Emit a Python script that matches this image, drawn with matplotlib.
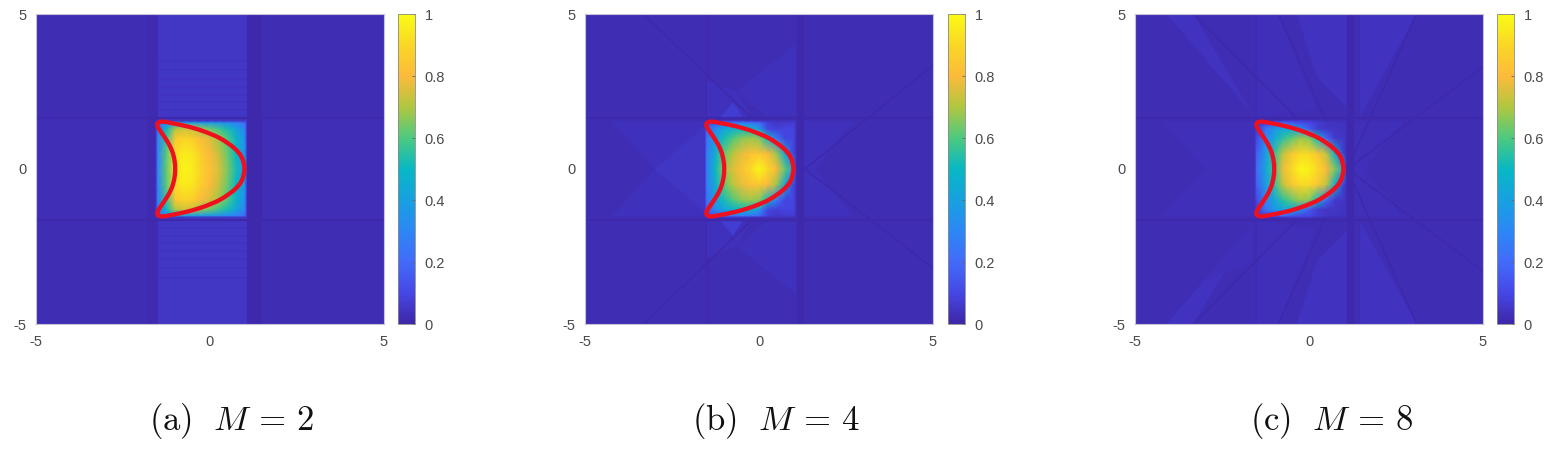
import numpy as np
import matplotlib
matplotlib.use('Agg')
import matplotlib.pyplot as plt
from matplotlib.cm import ScalarMappable
from matplotlib.colors import LinearSegmentedColormap, Normalize
from matplotlib.path import Path
from matplotlib.patches import PathPatch

plt.rcParams['font.family'] = ['Liberation Sans', 'DejaVu Sans']
plt.rcParams['mathtext.fontset'] = 'cm'

captions = [r'$\mathrm{(a)}\ \ M\,=\,2$', r'$\mathrm{(b)}\ \ M\,=\,4$', r'$\mathrm{(c)}\ \ M\,=\,8$']
axis_ticks = [-5, 0, 5]
axis_labels = ['-5', '0', '5']
bar_ticks = [0, 0.2, 0.4, 0.6, 0.8, 1]
bar_labels = ['0', '0.2', '0.4', '0.6', '0.8', '1']

# colormap
cmap_levels = [0, 0.1, 0.2, 0.3, 0.4, 0.5, 0.6, 0.7, 0.8, 0.9, 1]
cmap_colors = [(0.2422, 0.1504, 0.6603), (0.2750, 0.2800, 0.9000), (0.2600, 0.4200, 0.9800),
               (0.1700, 0.5300, 0.9600), (0.0900, 0.6300, 0.8800), (0.0300, 0.7200, 0.7700),
               (0.3000, 0.7900, 0.5000), (0.6900, 0.7800, 0.2500), (0.9900, 0.7300, 0.2300),
               (0.9800, 0.8400, 0.1500), (0.9769, 0.9839, 0.0805)]

# red curve, upper half from the right tip round to the inner point
curve_x = [0.99, 0.91, 0.69, 0.29, -0.19, -0.67, -1.15, -1.38, -1.50, -1.50, -1.35, -1.19, -1.08, -1.02, -1.00]
curve_y = [0.00, 0.38, 0.68, 0.99, 1.22, 1.38, 1.49, 1.53, 1.48, 1.36, 1.10, 0.82, 0.55, 0.28, 0.00]

# field inside the box, upper half only, the lower half is its mirror image
field_x = [-1.55, -1.5, -1.25, -1.0, -0.75, -0.5, -0.25, 0.0, 0.25, 0.5, 0.75, 1.0, 1.05]
field_y = [0.0, 0.5, 1.0, 1.3, 1.5, 1.55]
field_a = [[.06, .30, .62, .93, .98, .96, .88, .82, .75, .65, .52, .36, .06],
           [.06, .29, .61, .91, .96, .94, .86, .80, .73, .63, .50, .35, .06],
           [.06, .28, .57, .84, .89, .87, .80, .75, .68, .60, .48, .33, .06],
           [.06, .26, .50, .70, .74, .73, .67, .63, .58, .52, .42, .30, .06],
           [.06, .18, .30, .38, .40, .40, .38, .37, .35, .32, .28, .20, .06],
           [.05, .05, .05, .05, .05, .05, .05, .05, .05, .05, .05, .05, .05]]
field_b = [[.06, .28, .50, .68, .76, .83, .90, .99, .90, .80, .62, .38, .08],
           [.06, .26, .46, .62, .71, .77, .82, .84, .80, .68, .42, .08, .05],
           [.06, .22, .40, .52, .60, .66, .68, .66, .50, .25, .09, .09, .05],
           [.06, .18, .32, .42, .47, .50, .50, .38, .10, .08, .09, .09, .05],
           [.05, .10, .14, .20, .24, .26, .24, .20, .08, .05, .06, .07, .04],
           [.04, .04, .05, .07, .07, .07, .05, .04, .04, .04, .04, .04, .04]]
field_c = [[.05, .20, .42, .58, .78, .90, .99, .97, .90, .80, .65, .42, .08],
           [.05, .17, .38, .55, .72, .84, .90, .90, .84, .72, .45, .07, .04],
           [.05, .10, .30, .42, .55, .62, .68, .66, .50, .18, .06, .05, .04],
           [.04, .07, .22, .36, .42, .45, .35, .16, .07, .05, .05, .04, .04],
           [.04, .05, .08, .16, .20, .14, .10, .10, .07, .05, .04, .04, .04],
           [.03, .03, .03, .04, .06, .08, .09, .07, .04, .03, .03, .03, .03]]
fields = [field_a, field_b, field_c]

base_level = 0.02

# faint bands: x0, x1, level
column_bands = [[(-1.48, 1.05, .05), (-1.82, -1.48, .012), (1.05, 1.48, .008)],
                [(-1.55, -1.4, .012), (1.1, 1.28, .006)],
                [(-1.55, -1.4, .012), (1.1, 1.28, .006)]]
row_bands = [[(-5, -1.82, .026), (1.48, 5, .026)], [], []]

# stripes across the central column of panel (a)
stripe_y = [1.9, 2.15, 2.4, 2.65, 2.9, 3.2, 3.5]

# lighter facets: outline x, outline y, level
facets_b = [([-4.23, -1.5, -1.5, -4.23, -2.99], [1.53, 1.53, -1.53, -1.53, 0], .035),
            ([-2.99, -1.5, -1.5], [0, 1.45, -1.45], .045),
            ([1.3, 2.7, 1.6, 2.7, 1.3], [1.53, 1.53, 0, -1.53, -1.53], .035),
            ([-1.5, -.64, -.2, -1.5], [2.85, 2.5, 1.69, 1.69], .035),
            ([-1.5, -.64, -.2, -1.5], [-2.85, -2.5, -1.69, -1.69], .035),
            ([-.64, 1.08, 1.08, .22], [2.5, 4.05, 1.69, 1.69], .035),
            ([-.64, 1.08, 1.08, .22], [-2.5, -4.05, -1.69, -1.69], .035),
            ([-1.12, -.75, -.45], [1.65, 2.15, 1.65], .07),
            ([-1.12, -.75, -.45], [-1.65, -2.15, -1.65], .07)]
facets_c = [([-4.23, -1.5, -1.5, -4.23, -2.99], [1.53, 1.53, -1.53, -1.53, 0], .03),
            ([1.3, 2.7, 1.6, 2.7, 1.3], [1.53, 1.53, 0, -1.53, -1.53], .03),
            ([-4.09, -3.32, -1.6], [5, 5, 1.74], .04),
            ([-4.09, -3.32, -1.6], [-5, -5, -1.74], .04),
            ([-1.5, -.88, .22, -1.5], [5, 5, 1.9, 1.69], .03),
            ([-1.5, -.88, .22, -1.5], [-5, -5, -1.9, -1.69], .03),
            ([-.35, 1.08, 1.08, .22], [5, 5, 2.0, 2.98], .04),
            ([-.35, 1.08, 1.08, .22], [-5, -5, -2.0, -2.98], .04),
            ([1.47, 3.09, 1.47], [5, 5, 1.69], .04),
            ([1.47, 3.09, 1.47], [-5, -5, -1.69], .04),
            ([-3.0, -1.6, -1.6], [-3.6, -1.74, -3.0], .03)]
facets = [[], facets_b, facets_c]

# thin dark streaks through the point right of the tip
streak_x_b = [-3.32, -3.32, 5, 5]
streak_y_b = [5, -5, 3.35, -3.2]
streak_x_c = [-3.32, -.88, -3.32, -.88, 5, 5, 3.09, 3.09]
streak_y_c = [5, 5, -5, -5, 3.3, -3.3, 5, -5]
streak_hub = [None, (1.32, 0), (1.1, 0)]
streaks = [None, (streak_x_b, streak_y_b), (streak_x_c, streak_y_c)]

parula = LinearSegmentedColormap.from_list('parula', list(zip(cmap_levels, cmap_colors)), N=256)
norm = Normalize(0, 1)


def shade(ax, xs, ys, level, z=1):
    ax.fill(xs, ys, color=parula(norm(level)), lw=0, zorder=z)


def curve_path(xs, ys):
    # closed Catmull-Rom through the read points, as Bezier segments
    pts = np.column_stack([xs, ys])
    n = len(pts)
    verts = [pts[0]]
    codes = [Path.MOVETO]
    for i in range(n):
        p0, p1, p2, p3 = pts[i - 1], pts[i], pts[(i + 1) % n], pts[(i + 2) % n]
        verts += [p1 + (p2 - p0) / 6, p2 - (p3 - p1) / 6, p2]
        codes += [Path.CURVE4] * 3
    return Path(verts, codes)


fig = plt.figure(figsize=(15.5, 4.54), dpi=100)
W, H = 1550.0, 454.0
panel_left = [36, 585, 1135]
bar_left = [398, 948, 1497]
caption_x = [231.5, 776, 1332]
top, bottom = 14, 324

full_x = curve_x + curve_x[-2:0:-1]
full_y = curve_y + [-v for v in curve_y[-2:0:-1]]
mesh_y = [-v for v in field_y[:0:-1]] + field_y

for i in range(3):
    ax = fig.add_axes([panel_left[i] / W, 1 - bottom / H, 348 / W, (bottom - top) / H])
    ax.set_xlim(-5, 5)
    ax.set_ylim(-5, 5)
    ax.set_facecolor(parula(norm(base_level)))

    for x0, x1, level in row_bands[i]:
        shade(ax, [x0, x1, x1, x0], [-1.63, -1.63, 1.63, 1.63], level)
    for x0, x1, level in column_bands[i]:
        shade(ax, [x0, x1, x1, x0], [-5, -5, 5, 5], level)
    for xs, ys, level in facets[i]:
        shade(ax, xs, ys, level, z=1.5)
    if i == 0:
        for sy in stripe_y:
            ax.hlines([sy, -sy], -1.48, 1.05, color=parula(norm(.04)), lw=1.2, zorder=1.6)
    if streaks[i] is not None:
        hx, hy = streak_hub[i]
        for sx, sy in zip(*streaks[i]):
            ax.plot([hx, sx], [hy, sy], color=parula(norm(.004)), lw=1.1, zorder=1.7)
    ax.hlines([1.63, -1.63], -5, 5, color=parula(norm(.008)), lw=1.6, zorder=1.8)

    upper = np.array(fields[i])
    values = np.vstack([upper[:0:-1], upper])
    gx, gy = np.meshgrid(field_x, mesh_y)
    ax.pcolormesh(gx, gy, values, cmap=parula, norm=norm, shading='gouraud', zorder=2)

    ax.add_patch(PathPatch(curve_path(full_x, full_y), fill=False, edgecolor='#ee0f1f',
                           lw=3.1, zorder=3))

    ax.set_xticks(axis_ticks)
    ax.set_xticklabels(axis_labels)
    ax.set_yticks(axis_ticks)
    ax.set_yticklabels(axis_labels)
    ax.tick_params(axis='x', length=0, labelsize=10.5, labelcolor='#4a4a4a', pad=8)
    ax.tick_params(axis='y', length=0, labelsize=10.5, labelcolor='#4a4a4a', pad=7)
    for s in ax.spines.values():
        s.set_color('#c4c4d6')
        s.set_linewidth(0.8)

    cax = fig.add_axes([bar_left[i] / W, 1 - bottom / H, 17 / W, (bottom - top) / H])
    cb = fig.colorbar(ScalarMappable(norm=norm, cmap=parula), cax=cax)
    cb.set_ticks(bar_ticks)
    cb.set_ticklabels(bar_labels)
    cax.tick_params(direction='in', length=2, width=0.6, color='#666666',
                    labelsize=10.5, labelcolor='#4a4a4a', pad=7)
    cb.outline.set_edgecolor('#8a8a8a')
    cb.outline.set_linewidth(0.6)

    fig.text(caption_x[i] / W, 1 - 421 / H, captions[i], fontsize=25, color='#111111',
             ha='center', va='center')

fig.savefig('out.png', dpi=100)
